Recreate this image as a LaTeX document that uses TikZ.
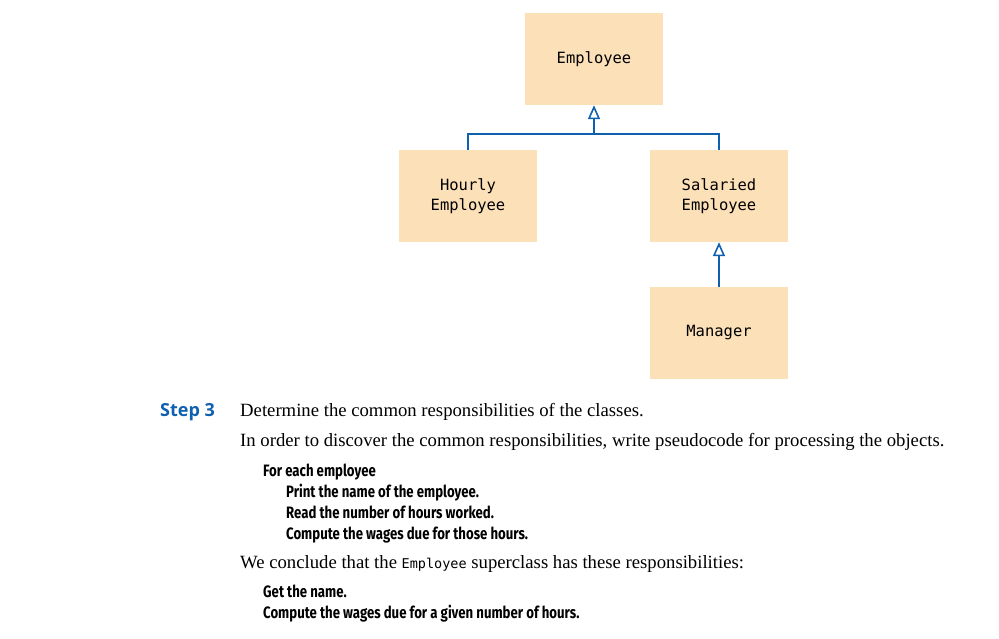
\documentclass[tikz,border=0pt]{standalone}
\usepackage{fontspec}
\setmainfont{Liberation Serif}
\setmonofont{DejaVu Sans Mono}
\newfontfamily\stepfont{Open Sans}
\newfontfamily\pseudofont[FakeStretch=0.8]{Fira Sans}
\usetikzlibrary{arrows.meta,positioning}
\definecolor{boxfill}{RGB}{252,224,184}
\definecolor{umlblue}{RGB}{16,96,176}
\tikzset{
    classbox/.style={
    rectangle,fill=boxfill,minimum width=138pt,minimum height=92pt,inner sep=0pt,
    font=\ttfamily\fontsize{15.5}{19.5}\selectfont,align=center
    },
    inherit/.style={
    draw=umlblue,line width=1.8pt,-{Triangle[open,width=12pt,length=14pt,line width=1.6pt]}
    },
    branch/.style={
    draw=umlblue,line width=1.8pt
    },
    bodytext/.style={
    anchor=base west,inner sep=0pt,font=\fontsize{18.7}{22}\selectfont
    },
    pseudo/.style={
    anchor=base west,inner sep=0pt,font=\pseudofont\bfseries\fontsize{16.5}{19}\selectfont
    },
}

\begin{document}
\begin{tikzpicture}[x=1pt,y=-1pt]
  \useasboundingbox[fill=white] (0,0) rectangle (999,639);
  % class hierarchy
  \node[classbox] (employee) at (594,59) {Employee};
  \node[classbox] (hourly) at (468,196) {Hourly\\Employee};
  \node[classbox] (salaried) at (719,196) {Salaried\\Employee};
  \node[classbox] (manager) at (719,333) {Manager};
  \coordinate (junc) at (594,134);

  \draw[branch] (hourly.north) |- (junc) -| (salaried.north);
  \draw[inherit] (junc) -- (employee.south);
  \draw[inherit] (manager.north) -- (salaried.south);

  % step text
  \node[anchor=base west,inner sep=0pt,text=umlblue,font=\stepfont\bfseries\fontsize{18}{21}\selectfont] (step) at (160,416) {Step 3};
  \node[bodytext] (line1) at (240,416) {Determine the common responsibilities of the classes.};
  \node[bodytext] (line2) at (240,446) {In order to discover the common responsibilities, write pseudocode for processing the objects.};
  \node[pseudo] (p1) at (263,476) {For each employee};
  \node[pseudo] (p2) at (286,497) {Print the name of the employee.};
  \node[pseudo] (p3) at (286,518) {Read the number of hours worked.};
  \node[pseudo] (p4) at (286,539) {Compute the wages due for those hours.};
  \node[bodytext] (line3) at (240,568) {We conclude that the {\ttfamily\fontsize{13.5}{16}\selectfont Employee} superclass has these responsibilities:};
  \node[pseudo] (r1) at (263,597) {Get the name.};
  \node[pseudo] (r2) at (263,618) {Compute the wages due for a given number of hours.};
\end{tikzpicture}
\end{document}
